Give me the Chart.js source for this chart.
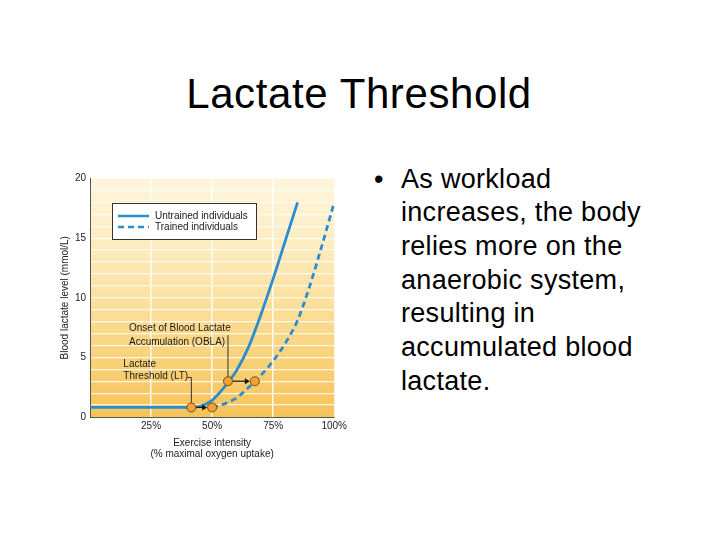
<!DOCTYPE html>
<html>
<head>
<meta charset="utf-8">
<script src="https://cdn.jsdelivr.net/npm/chart.js@4.4.0/dist/chart.umd.min.js"></script>
<style>
  html, body { margin:0; padding:0; background:#fff; width:720px; height:540px; overflow:hidden; }
  #title { position:absolute; left:-1px; top:73px; width:720px; text-align:center;
           font-family:"Liberation Sans", Arial, sans-serif; font-size:42px; line-height:42px;
           letter-spacing:0.6px; color:#000; }
  #bullet { position:absolute; left:370px; top:162.5px; font-family:"Liberation Sans", Arial, sans-serif;
            font-size:27px; line-height:33.7px; color:#000; }
  #bullet .dot { position:absolute; left:4px; top:0; }
  #bullet .txt { position:absolute; left:31px; top:0; white-space:nowrap; letter-spacing:0.3px; }
  #wrap { position:absolute; left:55px; top:165px; width:295px; height:305px; }
</style>
</head>
<body>
<div id="title">Lactate Threshold</div>
<div id="bullet"><span class="dot">•</span><span class="txt">As workload<br>increases, the body<br>relies more on the<br>anaerobic system,<br>resulting in<br>accumulated blood<br>lactate.</span></div>
<div id="wrap"><canvas id="c"></canvas></div>
<script>
// ---- data ----
const seriesLabels = ['Untrained individuals', 'Trained individuals'];
const untrainedX = [0, 5, 10, 15, 20, 25, 30, 35, 40, 45, 50, 55, 60, 65, 70, 75, 80, 85];
const untrainedY = [0.8, 0.8, 0.8, 0.8, 0.8, 0.8, 0.8, 0.8, 0.8, 0.9, 1.4, 2.5, 3.9, 5.9, 8.6, 11.6, 14.8, 18];
const trainedX = [50, 55, 60, 65, 70, 75, 80, 85, 90, 95, 100];
const trainedY = [0.8, 1.1, 1.6, 2.5, 3.5, 4.7, 6.2, 8.1, 11.0, 14.4, 18];
const markerX = [41.5, 50, 56.5, 67.5];   // LT untrained, LT trained, OBLA untrained, OBLA trained
const markerY = [0.8, 0.8, 3, 3];
const xTickValues = [0, 25, 50, 75, 100];
const xTickLabels = ['', '25%', '50%', '75%', '100%'];
const yTickValues = [0, 5, 10, 15, 20];
const yTickLabels = ['0', '5', '10', '15', '20'];
const xTitle = ['Exercise intensity', '(% maximal oxygen uptake)'];
const yTitle = 'Blood lactate level (mmol/L)';
const ltLabel = ['Lactate', 'Threshold (LT)'];
const oblaLabel = ['Onset of Blood Lactate', 'Accumulation (OBLA)'];

const BLUE = '#2b8dce';
const FONT = '"Liberation Sans", Arial, sans-serif';

const bgPlugin = {
  id: 'bg',
  beforeDraw(chart) {
    const { ctx, chartArea: a } = chart;
    const g = ctx.createLinearGradient(0, a.top, 0, a.bottom);
    g.addColorStop(0, '#fdf5dc');
    g.addColorStop(0.25, '#fdedc4');
    g.addColorStop(0.5, '#fce1a0');
    g.addColorStop(0.75, '#f9d27a');
    g.addColorStop(1, '#f6c35a');
    ctx.save();
    ctx.fillStyle = g;
    ctx.fillRect(a.left, a.top, a.right - a.left, a.bottom - a.top);
    ctx.restore();
  }
};

const annotPlugin = {
  id: 'annot',
  afterDatasetsDraw(chart) {
    const { ctx, scales: { x, y } } = chart;
    const pts = markerX.map((v, i) => ({ x: x.getPixelForValue(v), y: y.getPixelForValue(markerY[i]) }));
    ctx.save();
    // arrows
    ctx.strokeStyle = '#111'; ctx.fillStyle = '#111'; ctx.lineWidth = 1.2;
    [[0, 1], [2, 3]].forEach(([a, b]) => {
      const p1 = pts[a], p2 = pts[b];
      const x1 = p1.x + 5, x2 = p2.x - 5;
      ctx.beginPath(); ctx.moveTo(x1, p1.y); ctx.lineTo(x2 - 3, p2.y); ctx.stroke();
      ctx.beginPath(); ctx.moveTo(x2, p2.y); ctx.lineTo(x2 - 5, p2.y - 3); ctx.lineTo(x2 - 5, p2.y + 3); ctx.closePath(); ctx.fill();
    });
    // leader lines
    ctx.lineWidth = 1; ctx.strokeStyle = '#333';
    const lt = pts[0], ob = pts[2];
    ctx.beginPath(); ctx.moveTo(lt.x - 4, lt.y - 30); ctx.lineTo(lt.x, lt.y - 30); ctx.lineTo(lt.x, lt.y - 5); ctx.stroke();
    ctx.beginPath(); ctx.moveTo(ob.x, ob.y - 46); ctx.lineTo(ob.x, ob.y - 5); ctx.stroke();
    // labels
    ctx.fillStyle = '#1a1a1a'; ctx.font = '10px ' + FONT; ctx.textBaseline = 'middle'; ctx.textAlign = 'left';
    ctx.fillText(ltLabel[0], lt.x - 68, lt.y - 43);
    ctx.fillText(ltLabel[1], lt.x - 68, lt.y - 31);
    ctx.fillText(oblaLabel[0], ob.x - 99, ob.y - 53);
    ctx.fillText(oblaLabel[1], ob.x - 99, ob.y - 39);
    ctx.restore();
  },
  afterDraw(chart) {
    const { ctx, chartArea: a } = chart;
    const bx = a.left + 22, by = a.top + 24.5, bw = 144, bh = 36;
    ctx.save();
    ctx.fillStyle = '#fff'; ctx.fillRect(bx, by, bw, bh);
    ctx.strokeStyle = '#333'; ctx.lineWidth = 1; ctx.strokeRect(bx + 0.5, by + 0.5, bw, bh);
    chart.data.datasets.slice(0, 2).forEach((ds, i) => {
      const ly = by + 13 + i * 11;
      ctx.strokeStyle = ds.borderColor; ctx.lineWidth = 2.5;
      ctx.setLineDash(ds.borderDash || []);
      ctx.beginPath(); ctx.moveTo(bx + 6, ly); ctx.lineTo(bx + 37, ly); ctx.stroke();
      ctx.setLineDash([]);
      ctx.fillStyle = '#1a1a1a'; ctx.font = '10px ' + FONT; ctx.textBaseline = 'middle';
      ctx.fillText(ds.label, bx + 43, ly);
    });
    ctx.restore();
  }
};

new Chart(document.getElementById('c'), {
  type: 'scatter',
  data: {
    datasets: [
      { label: seriesLabels[0], data: untrainedX.map((v, i) => ({ x: v, y: untrainedY[i] })),
        showLine: true, borderColor: BLUE, borderWidth: 2.8, pointRadius: 0, cubicInterpolationMode: 'monotone', order: 3 },
      { label: seriesLabels[1], data: trainedX.map((v, i) => ({ x: v, y: trainedY[i] })),
        showLine: true, borderColor: BLUE, borderWidth: 2.8, borderDash: [6, 4], pointRadius: 0, cubicInterpolationMode: 'monotone', order: 2 },
      { label: 'markers', data: markerX.map((v, i) => ({ x: v, y: markerY[i] })),
        showLine: false, pointRadius: 4.5, backgroundColor: '#f2a238', borderColor: '#7a4a12', borderWidth: 1, order: 1 }
    ]
  },
  options: {
    responsive: true, maintainAspectRatio: false, animation: false,
    layout: { padding: { left: 0, right: 14, top: 13.5, bottom: 0 } },
    plugins: { legend: { display: false }, tooltip: { enabled: false } },
    scales: {
      x: {
        type: 'linear', min: 0, max: 100,
        afterFit: s => { s.height = 53; },
        afterBuildTicks: s => { s.ticks = xTickValues.map(v => ({ value: v })); },
        ticks: { autoSkip: false, maxRotation: 0, padding: 3, color: '#222', font: { family: FONT, size: 10 },
                 callback: v => xTickLabels[xTickValues.indexOf(v)] ?? '' },
        grid: { drawTicks: false, lineWidth: 1.5,
                color: c => (c.tick && c.tick.value > 0 && c.tick.value < 100) ? 'rgba(255,255,255,0.9)' : 'rgba(0,0,0,0)' },
        border: { display: true, color: '#555', width: 1 },
        title: { display: true, text: xTitle, color: '#222', font: { family: FONT, size: 10, lineHeight: 1.1 },
                 padding: { top: 0, bottom: 10.5 } }
      },
      y: {
        type: 'linear', min: 0, max: 20,
        afterFit: s => { s.width = 35; },
        ticks: { stepSize: 1, autoSkip: false, padding: 4, color: '#222', font: { family: FONT, size: 10 },
                 callback: v => { const i = yTickValues.indexOf(v); return i >= 0 ? yTickLabels[i] : ''; } },
        grid: { drawTicks: false, lineWidth: 1.2,
                color: c => (c.tick && c.tick.value > 0 && c.tick.value < 20) ? 'rgba(255,255,255,0.8)' : 'rgba(0,0,0,0)' },
        border: { display: true, color: '#555', width: 1 },
        title: { display: true, text: yTitle, color: '#222', font: { family: FONT, size: 10, lineHeight: 1.1 },
                 padding: { top: 4.5, bottom: 0 } }
      }
    }
  },
  plugins: [bgPlugin, annotPlugin]
});
</script>
</body>
</html>
